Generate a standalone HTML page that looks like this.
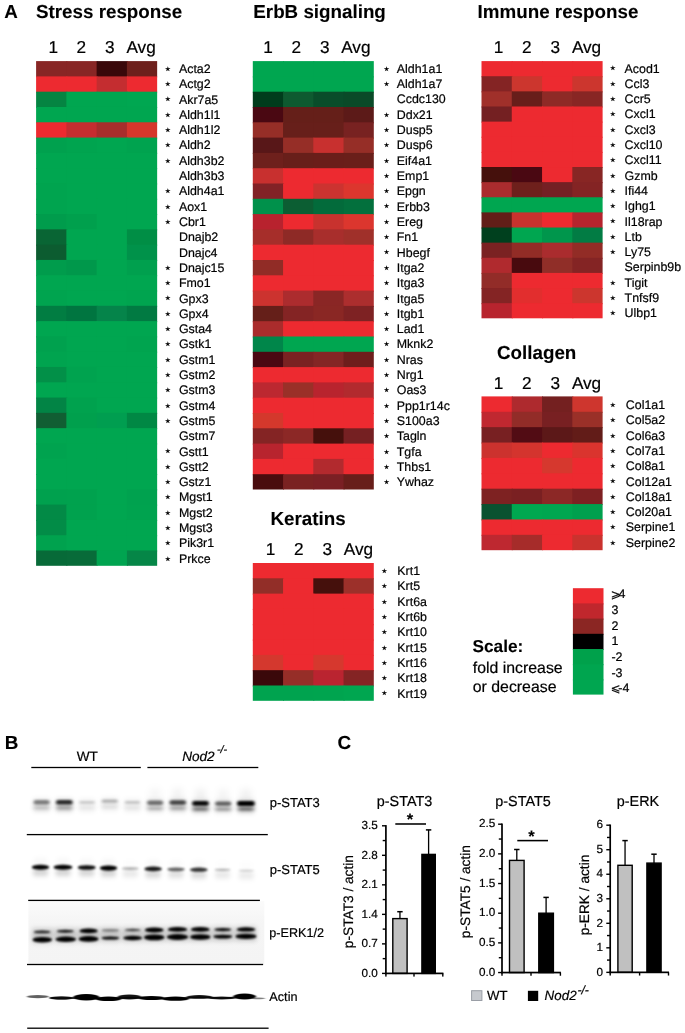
<!DOCTYPE html>
<html><head><meta charset="utf-8"><title>Figure</title>
<style>
html,body{margin:0;padding:0;background:#fff;}
body{width:685px;height:1033px;overflow:hidden;position:relative;font-family:"Liberation Sans",sans-serif;}
svg{position:absolute;left:0;top:0;}
svg text{font-family:"Liberation Sans",sans-serif;fill:#000;stroke:#000;stroke-width:0.2px;}
svg text[font-weight="bold"]{stroke-width:0.1px;}
</style></head><body>
<svg width="685" height="1033" viewBox="0 0 685 1033" shape-rendering="crispEdges" text-rendering="geometricPrecision">
<rect width="685" height="1033" fill="#fff"/>
<g shape-rendering="auto">
<rect x="36.10" y="61.10" width="31.26" height="16.29" fill="#882625"/>
<rect x="66.36" y="61.10" width="31.26" height="16.29" fill="#882625"/>
<rect x="96.62" y="61.10" width="31.26" height="16.29" fill="#3A080A"/>
<rect x="126.89" y="61.10" width="30.26" height="16.29" fill="#6E201C"/>
<rect x="36.10" y="76.39" width="31.26" height="16.29" fill="#ED2A30"/>
<rect x="66.36" y="76.39" width="31.26" height="16.29" fill="#ED2A30"/>
<rect x="96.62" y="76.39" width="31.26" height="16.29" fill="#C42D30"/>
<rect x="126.89" y="76.39" width="30.26" height="16.29" fill="#ED2A30"/>
<rect x="36.10" y="91.69" width="31.26" height="16.29" fill="#058442"/>
<rect x="66.36" y="91.69" width="31.26" height="16.29" fill="#00A650"/>
<rect x="96.62" y="91.69" width="31.26" height="16.29" fill="#00A650"/>
<rect x="126.89" y="91.69" width="30.26" height="16.29" fill="#00A751"/>
<rect x="36.10" y="106.98" width="31.26" height="16.29" fill="#00A650"/>
<rect x="66.36" y="106.98" width="31.26" height="16.29" fill="#00A650"/>
<rect x="96.62" y="106.98" width="31.26" height="16.29" fill="#00A650"/>
<rect x="126.89" y="106.98" width="30.26" height="16.29" fill="#00A650"/>
<rect x="36.10" y="122.28" width="31.26" height="16.29" fill="#ED2A30"/>
<rect x="66.36" y="122.28" width="31.26" height="16.29" fill="#C62D30"/>
<rect x="96.62" y="122.28" width="31.26" height="16.29" fill="#A82E2C"/>
<rect x="126.89" y="122.28" width="30.26" height="16.29" fill="#D6372C"/>
<rect x="36.10" y="137.57" width="31.26" height="16.29" fill="#00A14E"/>
<rect x="66.36" y="137.57" width="31.26" height="16.29" fill="#00A44F"/>
<rect x="96.62" y="137.57" width="31.26" height="16.29" fill="#00A650"/>
<rect x="126.89" y="137.57" width="30.26" height="16.29" fill="#00A34F"/>
<rect x="36.10" y="152.86" width="31.26" height="16.29" fill="#00A650"/>
<rect x="66.36" y="152.86" width="31.26" height="16.29" fill="#00A650"/>
<rect x="96.62" y="152.86" width="31.26" height="16.29" fill="#00A650"/>
<rect x="126.89" y="152.86" width="30.26" height="16.29" fill="#00A650"/>
<rect x="36.10" y="168.16" width="31.26" height="16.29" fill="#00A650"/>
<rect x="66.36" y="168.16" width="31.26" height="16.29" fill="#00A650"/>
<rect x="96.62" y="168.16" width="31.26" height="16.29" fill="#00A650"/>
<rect x="126.89" y="168.16" width="30.26" height="16.29" fill="#00A650"/>
<rect x="36.10" y="183.45" width="31.26" height="16.29" fill="#00A44F"/>
<rect x="66.36" y="183.45" width="31.26" height="16.29" fill="#00A650"/>
<rect x="96.62" y="183.45" width="31.26" height="16.29" fill="#00A650"/>
<rect x="126.89" y="183.45" width="30.26" height="16.29" fill="#00A650"/>
<rect x="36.10" y="198.75" width="31.26" height="16.29" fill="#00A44F"/>
<rect x="66.36" y="198.75" width="31.26" height="16.29" fill="#00A650"/>
<rect x="96.62" y="198.75" width="31.26" height="16.29" fill="#00A650"/>
<rect x="126.89" y="198.75" width="30.26" height="16.29" fill="#00A650"/>
<rect x="36.10" y="214.04" width="31.26" height="16.29" fill="#009C4C"/>
<rect x="66.36" y="214.04" width="31.26" height="16.29" fill="#00A04D"/>
<rect x="96.62" y="214.04" width="31.26" height="16.29" fill="#00A650"/>
<rect x="126.89" y="214.04" width="30.26" height="16.29" fill="#00A650"/>
<rect x="36.10" y="229.33" width="31.26" height="16.29" fill="#096534"/>
<rect x="66.36" y="229.33" width="31.26" height="16.29" fill="#00A650"/>
<rect x="96.62" y="229.33" width="31.26" height="16.29" fill="#00A650"/>
<rect x="126.89" y="229.33" width="30.26" height="16.29" fill="#008E45"/>
<rect x="36.10" y="244.63" width="31.26" height="16.29" fill="#0C5C30"/>
<rect x="66.36" y="244.63" width="31.26" height="16.29" fill="#00A650"/>
<rect x="96.62" y="244.63" width="31.26" height="16.29" fill="#00A650"/>
<rect x="126.89" y="244.63" width="30.26" height="16.29" fill="#00924A"/>
<rect x="36.10" y="259.92" width="31.26" height="16.29" fill="#009C4C"/>
<rect x="66.36" y="259.92" width="31.26" height="16.29" fill="#00984B"/>
<rect x="96.62" y="259.92" width="31.26" height="16.29" fill="#00A650"/>
<rect x="126.89" y="259.92" width="30.26" height="16.29" fill="#00A04E"/>
<rect x="36.10" y="275.22" width="31.26" height="16.29" fill="#00A650"/>
<rect x="66.36" y="275.22" width="31.26" height="16.29" fill="#00A650"/>
<rect x="96.62" y="275.22" width="31.26" height="16.29" fill="#00A650"/>
<rect x="126.89" y="275.22" width="30.26" height="16.29" fill="#00A650"/>
<rect x="36.10" y="290.51" width="31.26" height="16.29" fill="#00A44F"/>
<rect x="66.36" y="290.51" width="31.26" height="16.29" fill="#00A650"/>
<rect x="96.62" y="290.51" width="31.26" height="16.29" fill="#00A650"/>
<rect x="126.89" y="290.51" width="30.26" height="16.29" fill="#00A44F"/>
<rect x="36.10" y="305.80" width="31.26" height="16.29" fill="#017D42"/>
<rect x="66.36" y="305.80" width="31.26" height="16.29" fill="#007540"/>
<rect x="96.62" y="305.80" width="31.26" height="16.29" fill="#05844A"/>
<rect x="126.89" y="305.80" width="30.26" height="16.29" fill="#017A42"/>
<rect x="36.10" y="321.10" width="31.26" height="16.29" fill="#00A650"/>
<rect x="66.36" y="321.10" width="31.26" height="16.29" fill="#00A650"/>
<rect x="96.62" y="321.10" width="31.26" height="16.29" fill="#00A650"/>
<rect x="126.89" y="321.10" width="30.26" height="16.29" fill="#00A650"/>
<rect x="36.10" y="336.39" width="31.26" height="16.29" fill="#00A14E"/>
<rect x="66.36" y="336.39" width="31.26" height="16.29" fill="#00A650"/>
<rect x="96.62" y="336.39" width="31.26" height="16.29" fill="#00A650"/>
<rect x="126.89" y="336.39" width="30.26" height="16.29" fill="#00A44F"/>
<rect x="36.10" y="351.68" width="31.26" height="16.29" fill="#00A44F"/>
<rect x="66.36" y="351.68" width="31.26" height="16.29" fill="#00A650"/>
<rect x="96.62" y="351.68" width="31.26" height="16.29" fill="#00A650"/>
<rect x="126.89" y="351.68" width="30.26" height="16.29" fill="#00A650"/>
<rect x="36.10" y="366.98" width="31.26" height="16.29" fill="#029048"/>
<rect x="66.36" y="366.98" width="31.26" height="16.29" fill="#00A34F"/>
<rect x="96.62" y="366.98" width="31.26" height="16.29" fill="#00A650"/>
<rect x="126.89" y="366.98" width="30.26" height="16.29" fill="#00A650"/>
<rect x="36.10" y="382.27" width="31.26" height="16.29" fill="#00A650"/>
<rect x="66.36" y="382.27" width="31.26" height="16.29" fill="#00A650"/>
<rect x="96.62" y="382.27" width="31.26" height="16.29" fill="#00A650"/>
<rect x="126.89" y="382.27" width="30.26" height="16.29" fill="#00A650"/>
<rect x="36.10" y="397.57" width="31.26" height="16.29" fill="#028445"/>
<rect x="66.36" y="397.57" width="31.26" height="16.29" fill="#00A24E"/>
<rect x="96.62" y="397.57" width="31.26" height="16.29" fill="#00A650"/>
<rect x="126.89" y="397.57" width="30.26" height="16.29" fill="#00A650"/>
<rect x="36.10" y="412.86" width="31.26" height="16.29" fill="#115E33"/>
<rect x="66.36" y="412.86" width="31.26" height="16.29" fill="#00A04D"/>
<rect x="96.62" y="412.86" width="31.26" height="16.29" fill="#009E50"/>
<rect x="126.89" y="412.86" width="30.26" height="16.29" fill="#008844"/>
<rect x="36.10" y="428.15" width="31.26" height="16.29" fill="#00A650"/>
<rect x="66.36" y="428.15" width="31.26" height="16.29" fill="#00A650"/>
<rect x="96.62" y="428.15" width="31.26" height="16.29" fill="#00A650"/>
<rect x="126.89" y="428.15" width="30.26" height="16.29" fill="#00A650"/>
<rect x="36.10" y="443.45" width="31.26" height="16.29" fill="#00A34F"/>
<rect x="66.36" y="443.45" width="31.26" height="16.29" fill="#00A650"/>
<rect x="96.62" y="443.45" width="31.26" height="16.29" fill="#00A650"/>
<rect x="126.89" y="443.45" width="30.26" height="16.29" fill="#00A650"/>
<rect x="36.10" y="458.74" width="31.26" height="16.29" fill="#00A650"/>
<rect x="66.36" y="458.74" width="31.26" height="16.29" fill="#00A650"/>
<rect x="96.62" y="458.74" width="31.26" height="16.29" fill="#00A650"/>
<rect x="126.89" y="458.74" width="30.26" height="16.29" fill="#00A650"/>
<rect x="36.10" y="474.04" width="31.26" height="16.29" fill="#00A650"/>
<rect x="66.36" y="474.04" width="31.26" height="16.29" fill="#00A650"/>
<rect x="96.62" y="474.04" width="31.26" height="16.29" fill="#00A650"/>
<rect x="126.89" y="474.04" width="30.26" height="16.29" fill="#00A650"/>
<rect x="36.10" y="489.33" width="31.26" height="16.29" fill="#00A14E"/>
<rect x="66.36" y="489.33" width="31.26" height="16.29" fill="#00A24E"/>
<rect x="96.62" y="489.33" width="31.26" height="16.29" fill="#00A650"/>
<rect x="126.89" y="489.33" width="30.26" height="16.29" fill="#00A24F"/>
<rect x="36.10" y="504.62" width="31.26" height="16.29" fill="#028A46"/>
<rect x="66.36" y="504.62" width="31.26" height="16.29" fill="#00A24E"/>
<rect x="96.62" y="504.62" width="31.26" height="16.29" fill="#00A650"/>
<rect x="126.89" y="504.62" width="30.26" height="16.29" fill="#00A34F"/>
<rect x="36.10" y="519.92" width="31.26" height="16.29" fill="#028C47"/>
<rect x="66.36" y="519.92" width="31.26" height="16.29" fill="#00A650"/>
<rect x="96.62" y="519.92" width="31.26" height="16.29" fill="#00A650"/>
<rect x="126.89" y="519.92" width="30.26" height="16.29" fill="#00A650"/>
<rect x="36.10" y="535.21" width="31.26" height="16.29" fill="#00A24E"/>
<rect x="66.36" y="535.21" width="31.26" height="16.29" fill="#00A650"/>
<rect x="96.62" y="535.21" width="31.26" height="16.29" fill="#00A650"/>
<rect x="126.89" y="535.21" width="30.26" height="16.29" fill="#00A650"/>
<rect x="36.10" y="550.51" width="31.26" height="15.29" fill="#076A38"/>
<rect x="66.36" y="550.51" width="31.26" height="15.29" fill="#086B39"/>
<rect x="96.62" y="550.51" width="31.26" height="15.29" fill="#00A450"/>
<rect x="126.89" y="550.51" width="30.26" height="15.29" fill="#058647"/>
</g>
<text x="167.75" y="70.85" font-size="6.3" text-anchor="middle" font-family="DejaVu Sans, sans-serif">★</text>
<text x="178.95" y="72.95" font-size="12.4" text-anchor="start" font-weight="normal" font-style="normal" >Acta2</text>
<text x="167.75" y="86.16" font-size="6.3" text-anchor="middle" font-family="DejaVu Sans, sans-serif">★</text>
<text x="178.95" y="88.25" font-size="12.4" text-anchor="start" font-weight="normal" font-style="normal" >Actg2</text>
<text x="167.75" y="101.46" font-size="6.3" text-anchor="middle" font-family="DejaVu Sans, sans-serif">★</text>
<text x="178.95" y="103.56" font-size="12.4" text-anchor="start" font-weight="normal" font-style="normal" >Akr7a5</text>
<text x="167.75" y="116.77" font-size="6.3" text-anchor="middle" font-family="DejaVu Sans, sans-serif">★</text>
<text x="178.95" y="118.87" font-size="12.4" text-anchor="start" font-weight="normal" font-style="normal" >Aldh1l1</text>
<text x="167.75" y="132.07" font-size="6.3" text-anchor="middle" font-family="DejaVu Sans, sans-serif">★</text>
<text x="178.95" y="134.17" font-size="12.4" text-anchor="start" font-weight="normal" font-style="normal" >Aldh1l2</text>
<text x="167.75" y="147.38" font-size="6.3" text-anchor="middle" font-family="DejaVu Sans, sans-serif">★</text>
<text x="178.95" y="149.48" font-size="12.4" text-anchor="start" font-weight="normal" font-style="normal" >Aldh2</text>
<text x="167.75" y="162.68" font-size="6.3" text-anchor="middle" font-family="DejaVu Sans, sans-serif">★</text>
<text x="178.95" y="164.78" font-size="12.4" text-anchor="start" font-weight="normal" font-style="normal" >Aldh3b2</text>
<text x="178.95" y="180.08" font-size="12.4" text-anchor="start" font-weight="normal" font-style="normal" >Aldh3b3</text>
<text x="167.75" y="193.29" font-size="6.3" text-anchor="middle" font-family="DejaVu Sans, sans-serif">★</text>
<text x="178.95" y="195.39" font-size="12.4" text-anchor="start" font-weight="normal" font-style="normal" >Aldh4a1</text>
<text x="167.75" y="208.59" font-size="6.3" text-anchor="middle" font-family="DejaVu Sans, sans-serif">★</text>
<text x="178.95" y="210.69" font-size="12.4" text-anchor="start" font-weight="normal" font-style="normal" >Aox1</text>
<text x="167.75" y="223.90" font-size="6.3" text-anchor="middle" font-family="DejaVu Sans, sans-serif">★</text>
<text x="178.95" y="226.00" font-size="12.4" text-anchor="start" font-weight="normal" font-style="normal" >Cbr1</text>
<text x="178.95" y="241.31" font-size="12.4" text-anchor="start" font-weight="normal" font-style="normal" >Dnajb2</text>
<text x="178.95" y="256.61" font-size="12.4" text-anchor="start" font-weight="normal" font-style="normal" >Dnajc4</text>
<text x="167.75" y="269.81" font-size="6.3" text-anchor="middle" font-family="DejaVu Sans, sans-serif">★</text>
<text x="178.95" y="271.92" font-size="12.4" text-anchor="start" font-weight="normal" font-style="normal" >Dnajc15</text>
<text x="167.75" y="285.12" font-size="6.3" text-anchor="middle" font-family="DejaVu Sans, sans-serif">★</text>
<text x="178.95" y="287.22" font-size="12.4" text-anchor="start" font-weight="normal" font-style="normal" >Fmo1</text>
<text x="167.75" y="300.42" font-size="6.3" text-anchor="middle" font-family="DejaVu Sans, sans-serif">★</text>
<text x="178.95" y="302.52" font-size="12.4" text-anchor="start" font-weight="normal" font-style="normal" >Gpx3</text>
<text x="167.75" y="315.73" font-size="6.3" text-anchor="middle" font-family="DejaVu Sans, sans-serif">★</text>
<text x="178.95" y="317.83" font-size="12.4" text-anchor="start" font-weight="normal" font-style="normal" >Gpx4</text>
<text x="167.75" y="331.03" font-size="6.3" text-anchor="middle" font-family="DejaVu Sans, sans-serif">★</text>
<text x="178.95" y="333.13" font-size="12.4" text-anchor="start" font-weight="normal" font-style="normal" >Gsta4</text>
<text x="167.75" y="346.34" font-size="6.3" text-anchor="middle" font-family="DejaVu Sans, sans-serif">★</text>
<text x="178.95" y="348.44" font-size="12.4" text-anchor="start" font-weight="normal" font-style="normal" >Gstk1</text>
<text x="167.75" y="361.64" font-size="6.3" text-anchor="middle" font-family="DejaVu Sans, sans-serif">★</text>
<text x="178.95" y="363.75" font-size="12.4" text-anchor="start" font-weight="normal" font-style="normal" >Gstm1</text>
<text x="167.75" y="376.95" font-size="6.3" text-anchor="middle" font-family="DejaVu Sans, sans-serif">★</text>
<text x="178.95" y="379.05" font-size="12.4" text-anchor="start" font-weight="normal" font-style="normal" >Gstm2</text>
<text x="167.75" y="392.25" font-size="6.3" text-anchor="middle" font-family="DejaVu Sans, sans-serif">★</text>
<text x="178.95" y="394.35" font-size="12.4" text-anchor="start" font-weight="normal" font-style="normal" >Gstm3</text>
<text x="167.75" y="407.56" font-size="6.3" text-anchor="middle" font-family="DejaVu Sans, sans-serif">★</text>
<text x="178.95" y="409.66" font-size="12.4" text-anchor="start" font-weight="normal" font-style="normal" >Gstm4</text>
<text x="167.75" y="422.86" font-size="6.3" text-anchor="middle" font-family="DejaVu Sans, sans-serif">★</text>
<text x="178.95" y="424.96" font-size="12.4" text-anchor="start" font-weight="normal" font-style="normal" >Gstm5</text>
<text x="178.95" y="440.27" font-size="12.4" text-anchor="start" font-weight="normal" font-style="normal" >Gstm7</text>
<text x="167.75" y="453.47" font-size="6.3" text-anchor="middle" font-family="DejaVu Sans, sans-serif">★</text>
<text x="178.95" y="455.57" font-size="12.4" text-anchor="start" font-weight="normal" font-style="normal" >Gstt1</text>
<text x="167.75" y="468.78" font-size="6.3" text-anchor="middle" font-family="DejaVu Sans, sans-serif">★</text>
<text x="178.95" y="470.88" font-size="12.4" text-anchor="start" font-weight="normal" font-style="normal" >Gstt2</text>
<text x="167.75" y="484.08" font-size="6.3" text-anchor="middle" font-family="DejaVu Sans, sans-serif">★</text>
<text x="178.95" y="486.19" font-size="12.4" text-anchor="start" font-weight="normal" font-style="normal" >Gstz1</text>
<text x="167.75" y="499.39" font-size="6.3" text-anchor="middle" font-family="DejaVu Sans, sans-serif">★</text>
<text x="178.95" y="501.49" font-size="12.4" text-anchor="start" font-weight="normal" font-style="normal" >Mgst1</text>
<text x="167.75" y="514.69" font-size="6.3" text-anchor="middle" font-family="DejaVu Sans, sans-serif">★</text>
<text x="178.95" y="516.79" font-size="12.4" text-anchor="start" font-weight="normal" font-style="normal" >Mgst2</text>
<text x="167.75" y="530.00" font-size="6.3" text-anchor="middle" font-family="DejaVu Sans, sans-serif">★</text>
<text x="178.95" y="532.10" font-size="12.4" text-anchor="start" font-weight="normal" font-style="normal" >Mgst3</text>
<text x="167.75" y="545.30" font-size="6.3" text-anchor="middle" font-family="DejaVu Sans, sans-serif">★</text>
<text x="178.95" y="547.40" font-size="12.4" text-anchor="start" font-weight="normal" font-style="normal" >Pik3r1</text>
<text x="167.75" y="560.61" font-size="6.3" text-anchor="middle" font-family="DejaVu Sans, sans-serif">★</text>
<text x="178.95" y="562.71" font-size="12.4" text-anchor="start" font-weight="normal" font-style="normal" >Prkce</text>
<text x="53.20" y="53.20" font-size="17.2" text-anchor="middle" font-weight="normal" font-style="normal" >1</text>
<text x="81.40" y="53.20" font-size="17.2" text-anchor="middle" font-weight="normal" font-style="normal" >2</text>
<text x="109.90" y="53.20" font-size="17.2" text-anchor="middle" font-weight="normal" font-style="normal" >3</text>
<text x="155.75" y="53.20" font-size="17.2" text-anchor="end" font-weight="normal" font-style="normal" >Avg</text>
<g shape-rendering="auto">
<rect x="252.80" y="61.10" width="31.25" height="16.30" fill="#00A650"/>
<rect x="283.05" y="61.10" width="31.25" height="16.30" fill="#00A650"/>
<rect x="313.30" y="61.10" width="31.25" height="16.30" fill="#00A650"/>
<rect x="343.55" y="61.10" width="30.25" height="16.30" fill="#00A650"/>
<rect x="252.80" y="76.40" width="31.25" height="16.30" fill="#00A650"/>
<rect x="283.05" y="76.40" width="31.25" height="16.30" fill="#00A650"/>
<rect x="313.30" y="76.40" width="31.25" height="16.30" fill="#00A650"/>
<rect x="343.55" y="76.40" width="30.25" height="16.30" fill="#00A650"/>
<rect x="252.80" y="91.70" width="31.25" height="16.30" fill="#003C1C"/>
<rect x="283.05" y="91.70" width="31.25" height="16.30" fill="#0E5A30"/>
<rect x="313.30" y="91.70" width="31.25" height="16.30" fill="#094D2A"/>
<rect x="343.55" y="91.70" width="30.25" height="16.30" fill="#0A4A28"/>
<rect x="252.80" y="107.00" width="31.25" height="16.30" fill="#4A0812"/>
<rect x="283.05" y="107.00" width="31.25" height="16.30" fill="#651F19"/>
<rect x="313.30" y="107.00" width="31.25" height="16.30" fill="#651F19"/>
<rect x="343.55" y="107.00" width="30.25" height="16.30" fill="#5C1A18"/>
<rect x="252.80" y="122.30" width="31.25" height="16.30" fill="#962E27"/>
<rect x="283.05" y="122.30" width="31.25" height="16.30" fill="#671F1A"/>
<rect x="313.30" y="122.30" width="31.25" height="16.30" fill="#671F1A"/>
<rect x="343.55" y="122.30" width="30.25" height="16.30" fill="#782221"/>
<rect x="252.80" y="137.60" width="31.25" height="16.30" fill="#581718"/>
<rect x="283.05" y="137.60" width="31.25" height="16.30" fill="#962E27"/>
<rect x="313.30" y="137.60" width="31.25" height="16.30" fill="#C8302F"/>
<rect x="343.55" y="137.60" width="30.25" height="16.30" fill="#962E27"/>
<rect x="252.80" y="152.90" width="31.25" height="16.30" fill="#6E201C"/>
<rect x="283.05" y="152.90" width="31.25" height="16.30" fill="#681F1A"/>
<rect x="313.30" y="152.90" width="31.25" height="16.30" fill="#6A1E1A"/>
<rect x="343.55" y="152.90" width="30.25" height="16.30" fill="#6A1F1A"/>
<rect x="252.80" y="168.20" width="31.25" height="16.30" fill="#C8302F"/>
<rect x="283.05" y="168.20" width="31.25" height="16.30" fill="#ED2A30"/>
<rect x="313.30" y="168.20" width="31.25" height="16.30" fill="#ED2A30"/>
<rect x="343.55" y="168.20" width="30.25" height="16.30" fill="#ED2A30"/>
<rect x="252.80" y="183.50" width="31.25" height="16.30" fill="#822226"/>
<rect x="283.05" y="183.50" width="31.25" height="16.30" fill="#ED2A30"/>
<rect x="313.30" y="183.50" width="31.25" height="16.30" fill="#CC3330"/>
<rect x="343.55" y="183.50" width="30.25" height="16.30" fill="#DC362E"/>
<rect x="252.80" y="198.80" width="31.25" height="16.30" fill="#00914B"/>
<rect x="283.05" y="198.80" width="31.25" height="16.30" fill="#0C5E33"/>
<rect x="313.30" y="198.80" width="31.25" height="16.30" fill="#036B3B"/>
<rect x="343.55" y="198.80" width="30.25" height="16.30" fill="#03703D"/>
<rect x="252.80" y="214.10" width="31.25" height="16.30" fill="#B8222E"/>
<rect x="283.05" y="214.10" width="31.25" height="16.30" fill="#ED2A30"/>
<rect x="313.30" y="214.10" width="31.25" height="16.30" fill="#C8322E"/>
<rect x="343.55" y="214.10" width="30.25" height="16.30" fill="#DC362E"/>
<rect x="252.80" y="229.40" width="31.25" height="16.30" fill="#A62E2A"/>
<rect x="283.05" y="229.40" width="31.25" height="16.30" fill="#8E2A26"/>
<rect x="313.30" y="229.40" width="31.25" height="16.30" fill="#A82E2C"/>
<rect x="343.55" y="229.40" width="30.25" height="16.30" fill="#A0302A"/>
<rect x="252.80" y="244.70" width="31.25" height="16.30" fill="#ED2A30"/>
<rect x="283.05" y="244.70" width="31.25" height="16.30" fill="#ED2A30"/>
<rect x="313.30" y="244.70" width="31.25" height="16.30" fill="#ED2A30"/>
<rect x="343.55" y="244.70" width="30.25" height="16.30" fill="#ED2A30"/>
<rect x="252.80" y="260.00" width="31.25" height="16.30" fill="#912C26"/>
<rect x="283.05" y="260.00" width="31.25" height="16.30" fill="#ED2A30"/>
<rect x="313.30" y="260.00" width="31.25" height="16.30" fill="#ED2A30"/>
<rect x="343.55" y="260.00" width="30.25" height="16.30" fill="#ED2A30"/>
<rect x="252.80" y="275.30" width="31.25" height="16.30" fill="#ED2A30"/>
<rect x="283.05" y="275.30" width="31.25" height="16.30" fill="#ED2A30"/>
<rect x="313.30" y="275.30" width="31.25" height="16.30" fill="#ED2A30"/>
<rect x="343.55" y="275.30" width="30.25" height="16.30" fill="#ED2A30"/>
<rect x="252.80" y="290.60" width="31.25" height="16.30" fill="#CC332F"/>
<rect x="283.05" y="290.60" width="31.25" height="16.30" fill="#AC2C2E"/>
<rect x="313.30" y="290.60" width="31.25" height="16.30" fill="#8A2625"/>
<rect x="343.55" y="290.60" width="30.25" height="16.30" fill="#AC2E2E"/>
<rect x="252.80" y="305.90" width="31.25" height="16.30" fill="#651F19"/>
<rect x="283.05" y="305.90" width="31.25" height="16.30" fill="#842424"/>
<rect x="313.30" y="305.90" width="31.25" height="16.30" fill="#8A2724"/>
<rect x="343.55" y="305.90" width="30.25" height="16.30" fill="#7E2223"/>
<rect x="252.80" y="321.20" width="31.25" height="16.30" fill="#AA2C2C"/>
<rect x="283.05" y="321.20" width="31.25" height="16.30" fill="#ED2A30"/>
<rect x="313.30" y="321.20" width="31.25" height="16.30" fill="#ED2A30"/>
<rect x="343.55" y="321.20" width="30.25" height="16.30" fill="#ED2A30"/>
<rect x="252.80" y="336.50" width="31.25" height="16.30" fill="#00864A"/>
<rect x="283.05" y="336.50" width="31.25" height="16.30" fill="#00A650"/>
<rect x="313.30" y="336.50" width="31.25" height="16.30" fill="#00A650"/>
<rect x="343.55" y="336.50" width="30.25" height="16.30" fill="#00A650"/>
<rect x="252.80" y="351.80" width="31.25" height="16.30" fill="#4A0812"/>
<rect x="283.05" y="351.80" width="31.25" height="16.30" fill="#7A2222"/>
<rect x="313.30" y="351.80" width="31.25" height="16.30" fill="#842625"/>
<rect x="343.55" y="351.80" width="30.25" height="16.30" fill="#6E1E1C"/>
<rect x="252.80" y="367.10" width="31.25" height="16.30" fill="#ED2A30"/>
<rect x="283.05" y="367.10" width="31.25" height="16.30" fill="#ED2A30"/>
<rect x="313.30" y="367.10" width="31.25" height="16.30" fill="#ED2A30"/>
<rect x="343.55" y="367.10" width="30.25" height="16.30" fill="#ED2A30"/>
<rect x="252.80" y="382.40" width="31.25" height="16.30" fill="#BC2830"/>
<rect x="283.05" y="382.40" width="31.25" height="16.30" fill="#9A3028"/>
<rect x="313.30" y="382.40" width="31.25" height="16.30" fill="#B8242E"/>
<rect x="343.55" y="382.40" width="30.25" height="16.30" fill="#B22A2E"/>
<rect x="252.80" y="397.70" width="31.25" height="16.30" fill="#ED2A30"/>
<rect x="283.05" y="397.70" width="31.25" height="16.30" fill="#ED2A30"/>
<rect x="313.30" y="397.70" width="31.25" height="16.30" fill="#ED2A30"/>
<rect x="343.55" y="397.70" width="30.25" height="16.30" fill="#ED2A30"/>
<rect x="252.80" y="413.00" width="31.25" height="16.30" fill="#D4382C"/>
<rect x="283.05" y="413.00" width="31.25" height="16.30" fill="#ED2A30"/>
<rect x="313.30" y="413.00" width="31.25" height="16.30" fill="#ED2A30"/>
<rect x="343.55" y="413.00" width="30.25" height="16.30" fill="#ED2A30"/>
<rect x="252.80" y="428.30" width="31.25" height="16.30" fill="#842424"/>
<rect x="283.05" y="428.30" width="31.25" height="16.30" fill="#8C2826"/>
<rect x="313.30" y="428.30" width="31.25" height="16.30" fill="#45100C"/>
<rect x="343.55" y="428.30" width="30.25" height="16.30" fill="#752022"/>
<rect x="252.80" y="443.60" width="31.25" height="16.30" fill="#B8242E"/>
<rect x="283.05" y="443.60" width="31.25" height="16.30" fill="#ED2A30"/>
<rect x="313.30" y="443.60" width="31.25" height="16.30" fill="#ED2A30"/>
<rect x="343.55" y="443.60" width="30.25" height="16.30" fill="#ED2A30"/>
<rect x="252.80" y="458.90" width="31.25" height="16.30" fill="#ED2A30"/>
<rect x="283.05" y="458.90" width="31.25" height="16.30" fill="#ED2A30"/>
<rect x="313.30" y="458.90" width="31.25" height="16.30" fill="#B22A2E"/>
<rect x="343.55" y="458.90" width="30.25" height="16.30" fill="#ED2A30"/>
<rect x="252.80" y="474.20" width="31.25" height="15.30" fill="#4A0C0E"/>
<rect x="283.05" y="474.20" width="31.25" height="15.30" fill="#7A2222"/>
<rect x="313.30" y="474.20" width="31.25" height="15.30" fill="#7A2024"/>
<rect x="343.55" y="474.20" width="30.25" height="15.30" fill="#681E1A"/>
</g>
<text x="386.50" y="70.60" font-size="6.3" text-anchor="middle" font-family="DejaVu Sans, sans-serif">★</text>
<text x="396.80" y="72.70" font-size="12.4" text-anchor="start" font-weight="normal" font-style="normal" >Aldh1a1</text>
<text x="386.50" y="85.92" font-size="6.3" text-anchor="middle" font-family="DejaVu Sans, sans-serif">★</text>
<text x="396.80" y="88.02" font-size="12.4" text-anchor="start" font-weight="normal" font-style="normal" >Aldh1a7</text>
<text x="396.80" y="103.34" font-size="12.4" text-anchor="start" font-weight="normal" font-style="normal" >Ccdc130</text>
<text x="386.50" y="116.56" font-size="6.3" text-anchor="middle" font-family="DejaVu Sans, sans-serif">★</text>
<text x="396.80" y="118.66" font-size="12.4" text-anchor="start" font-weight="normal" font-style="normal" >Ddx21</text>
<text x="386.50" y="131.88" font-size="6.3" text-anchor="middle" font-family="DejaVu Sans, sans-serif">★</text>
<text x="396.80" y="133.98" font-size="12.4" text-anchor="start" font-weight="normal" font-style="normal" >Dusp5</text>
<text x="386.50" y="147.20" font-size="6.3" text-anchor="middle" font-family="DejaVu Sans, sans-serif">★</text>
<text x="396.80" y="149.30" font-size="12.4" text-anchor="start" font-weight="normal" font-style="normal" >Dusp6</text>
<text x="386.50" y="162.52" font-size="6.3" text-anchor="middle" font-family="DejaVu Sans, sans-serif">★</text>
<text x="396.80" y="164.62" font-size="12.4" text-anchor="start" font-weight="normal" font-style="normal" >Eif4a1</text>
<text x="386.50" y="177.84" font-size="6.3" text-anchor="middle" font-family="DejaVu Sans, sans-serif">★</text>
<text x="396.80" y="179.94" font-size="12.4" text-anchor="start" font-weight="normal" font-style="normal" >Emp1</text>
<text x="386.50" y="193.16" font-size="6.3" text-anchor="middle" font-family="DejaVu Sans, sans-serif">★</text>
<text x="396.80" y="195.26" font-size="12.4" text-anchor="start" font-weight="normal" font-style="normal" >Epgn</text>
<text x="386.50" y="208.48" font-size="6.3" text-anchor="middle" font-family="DejaVu Sans, sans-serif">★</text>
<text x="396.80" y="210.58" font-size="12.4" text-anchor="start" font-weight="normal" font-style="normal" >Erbb3</text>
<text x="386.50" y="223.80" font-size="6.3" text-anchor="middle" font-family="DejaVu Sans, sans-serif">★</text>
<text x="396.80" y="225.90" font-size="12.4" text-anchor="start" font-weight="normal" font-style="normal" >Ereg</text>
<text x="386.50" y="239.12" font-size="6.3" text-anchor="middle" font-family="DejaVu Sans, sans-serif">★</text>
<text x="396.80" y="241.22" font-size="12.4" text-anchor="start" font-weight="normal" font-style="normal" >Fn1</text>
<text x="386.50" y="254.44" font-size="6.3" text-anchor="middle" font-family="DejaVu Sans, sans-serif">★</text>
<text x="396.80" y="256.54" font-size="12.4" text-anchor="start" font-weight="normal" font-style="normal" >Hbegf</text>
<text x="386.50" y="269.76" font-size="6.3" text-anchor="middle" font-family="DejaVu Sans, sans-serif">★</text>
<text x="396.80" y="271.86" font-size="12.4" text-anchor="start" font-weight="normal" font-style="normal" >Itga2</text>
<text x="386.50" y="285.08" font-size="6.3" text-anchor="middle" font-family="DejaVu Sans, sans-serif">★</text>
<text x="396.80" y="287.18" font-size="12.4" text-anchor="start" font-weight="normal" font-style="normal" >Itga3</text>
<text x="386.50" y="300.40" font-size="6.3" text-anchor="middle" font-family="DejaVu Sans, sans-serif">★</text>
<text x="396.80" y="302.50" font-size="12.4" text-anchor="start" font-weight="normal" font-style="normal" >Itga5</text>
<text x="386.50" y="315.72" font-size="6.3" text-anchor="middle" font-family="DejaVu Sans, sans-serif">★</text>
<text x="396.80" y="317.82" font-size="12.4" text-anchor="start" font-weight="normal" font-style="normal" >Itgb1</text>
<text x="386.50" y="331.04" font-size="6.3" text-anchor="middle" font-family="DejaVu Sans, sans-serif">★</text>
<text x="396.80" y="333.14" font-size="12.4" text-anchor="start" font-weight="normal" font-style="normal" >Lad1</text>
<text x="386.50" y="346.36" font-size="6.3" text-anchor="middle" font-family="DejaVu Sans, sans-serif">★</text>
<text x="396.80" y="348.46" font-size="12.4" text-anchor="start" font-weight="normal" font-style="normal" >Mknk2</text>
<text x="386.50" y="361.68" font-size="6.3" text-anchor="middle" font-family="DejaVu Sans, sans-serif">★</text>
<text x="396.80" y="363.78" font-size="12.4" text-anchor="start" font-weight="normal" font-style="normal" >Nras</text>
<text x="386.50" y="377.00" font-size="6.3" text-anchor="middle" font-family="DejaVu Sans, sans-serif">★</text>
<text x="396.80" y="379.10" font-size="12.4" text-anchor="start" font-weight="normal" font-style="normal" >Nrg1</text>
<text x="386.50" y="392.32" font-size="6.3" text-anchor="middle" font-family="DejaVu Sans, sans-serif">★</text>
<text x="396.80" y="394.42" font-size="12.4" text-anchor="start" font-weight="normal" font-style="normal" >Oas3</text>
<text x="386.50" y="407.64" font-size="6.3" text-anchor="middle" font-family="DejaVu Sans, sans-serif">★</text>
<text x="396.80" y="409.74" font-size="12.4" text-anchor="start" font-weight="normal" font-style="normal" >Ppp1r14c</text>
<text x="386.50" y="422.96" font-size="6.3" text-anchor="middle" font-family="DejaVu Sans, sans-serif">★</text>
<text x="396.80" y="425.06" font-size="12.4" text-anchor="start" font-weight="normal" font-style="normal" >S100a3</text>
<text x="386.50" y="438.28" font-size="6.3" text-anchor="middle" font-family="DejaVu Sans, sans-serif">★</text>
<text x="396.80" y="440.38" font-size="12.4" text-anchor="start" font-weight="normal" font-style="normal" >Tagln</text>
<text x="386.50" y="453.60" font-size="6.3" text-anchor="middle" font-family="DejaVu Sans, sans-serif">★</text>
<text x="396.80" y="455.70" font-size="12.4" text-anchor="start" font-weight="normal" font-style="normal" >Tgfa</text>
<text x="386.50" y="468.92" font-size="6.3" text-anchor="middle" font-family="DejaVu Sans, sans-serif">★</text>
<text x="396.80" y="471.02" font-size="12.4" text-anchor="start" font-weight="normal" font-style="normal" >Thbs1</text>
<text x="386.50" y="484.24" font-size="6.3" text-anchor="middle" font-family="DejaVu Sans, sans-serif">★</text>
<text x="396.80" y="486.34" font-size="12.4" text-anchor="start" font-weight="normal" font-style="normal" >Ywhaz</text>
<text x="268.00" y="53.20" font-size="17.2" text-anchor="middle" font-weight="normal" font-style="normal" >1</text>
<text x="296.20" y="53.20" font-size="17.2" text-anchor="middle" font-weight="normal" font-style="normal" >2</text>
<text x="324.70" y="53.20" font-size="17.2" text-anchor="middle" font-weight="normal" font-style="normal" >3</text>
<text x="370.50" y="53.20" font-size="17.2" text-anchor="end" font-weight="normal" font-style="normal" >Avg</text>
<g shape-rendering="auto">
<rect x="252.80" y="563.00" width="31.25" height="16.31" fill="#ED2A30"/>
<rect x="283.05" y="563.00" width="31.25" height="16.31" fill="#ED2A30"/>
<rect x="313.30" y="563.00" width="31.25" height="16.31" fill="#ED2A30"/>
<rect x="343.55" y="563.00" width="30.25" height="16.31" fill="#ED2A30"/>
<rect x="252.80" y="578.31" width="31.25" height="16.31" fill="#922E28"/>
<rect x="283.05" y="578.31" width="31.25" height="16.31" fill="#ED2A30"/>
<rect x="313.30" y="578.31" width="31.25" height="16.31" fill="#45100C"/>
<rect x="343.55" y="578.31" width="30.25" height="16.31" fill="#9C302A"/>
<rect x="252.80" y="593.62" width="31.25" height="16.31" fill="#ED2A30"/>
<rect x="283.05" y="593.62" width="31.25" height="16.31" fill="#ED2A30"/>
<rect x="313.30" y="593.62" width="31.25" height="16.31" fill="#ED2A30"/>
<rect x="343.55" y="593.62" width="30.25" height="16.31" fill="#ED2A30"/>
<rect x="252.80" y="608.93" width="31.25" height="16.31" fill="#ED2A30"/>
<rect x="283.05" y="608.93" width="31.25" height="16.31" fill="#ED2A30"/>
<rect x="313.30" y="608.93" width="31.25" height="16.31" fill="#ED2A30"/>
<rect x="343.55" y="608.93" width="30.25" height="16.31" fill="#ED2A30"/>
<rect x="252.80" y="624.24" width="31.25" height="16.31" fill="#ED2A30"/>
<rect x="283.05" y="624.24" width="31.25" height="16.31" fill="#ED2A30"/>
<rect x="313.30" y="624.24" width="31.25" height="16.31" fill="#ED2A30"/>
<rect x="343.55" y="624.24" width="30.25" height="16.31" fill="#ED2A30"/>
<rect x="252.80" y="639.56" width="31.25" height="16.31" fill="#ED2A30"/>
<rect x="283.05" y="639.56" width="31.25" height="16.31" fill="#ED2A30"/>
<rect x="313.30" y="639.56" width="31.25" height="16.31" fill="#ED2A30"/>
<rect x="343.55" y="639.56" width="30.25" height="16.31" fill="#ED2A30"/>
<rect x="252.80" y="654.87" width="31.25" height="16.31" fill="#D4382E"/>
<rect x="283.05" y="654.87" width="31.25" height="16.31" fill="#ED2A30"/>
<rect x="313.30" y="654.87" width="31.25" height="16.31" fill="#D6382E"/>
<rect x="343.55" y="654.87" width="30.25" height="16.31" fill="#ED2A30"/>
<rect x="252.80" y="670.18" width="31.25" height="16.31" fill="#3A080A"/>
<rect x="283.05" y="670.18" width="31.25" height="16.31" fill="#962E28"/>
<rect x="313.30" y="670.18" width="31.25" height="16.31" fill="#BA2430"/>
<rect x="343.55" y="670.18" width="30.25" height="16.31" fill="#842424"/>
<rect x="252.80" y="685.49" width="31.25" height="15.31" fill="#00A34F"/>
<rect x="283.05" y="685.49" width="31.25" height="15.31" fill="#00A34F"/>
<rect x="313.30" y="685.49" width="31.25" height="15.31" fill="#00A44F"/>
<rect x="343.55" y="685.49" width="30.25" height="15.31" fill="#00A650"/>
</g>
<text x="384.30" y="573.00" font-size="6.3" text-anchor="middle" font-family="DejaVu Sans, sans-serif">★</text>
<text x="397.30" y="575.10" font-size="12.4" text-anchor="start" font-weight="normal" font-style="normal" >Krt1</text>
<text x="384.30" y="588.30" font-size="6.3" text-anchor="middle" font-family="DejaVu Sans, sans-serif">★</text>
<text x="397.30" y="590.40" font-size="12.4" text-anchor="start" font-weight="normal" font-style="normal" >Krt5</text>
<text x="384.30" y="603.60" font-size="6.3" text-anchor="middle" font-family="DejaVu Sans, sans-serif">★</text>
<text x="397.30" y="605.70" font-size="12.4" text-anchor="start" font-weight="normal" font-style="normal" >Krt6a</text>
<text x="384.30" y="618.90" font-size="6.3" text-anchor="middle" font-family="DejaVu Sans, sans-serif">★</text>
<text x="397.30" y="621.00" font-size="12.4" text-anchor="start" font-weight="normal" font-style="normal" >Krt6b</text>
<text x="384.30" y="634.20" font-size="6.3" text-anchor="middle" font-family="DejaVu Sans, sans-serif">★</text>
<text x="397.30" y="636.30" font-size="12.4" text-anchor="start" font-weight="normal" font-style="normal" >Krt10</text>
<text x="384.30" y="649.50" font-size="6.3" text-anchor="middle" font-family="DejaVu Sans, sans-serif">★</text>
<text x="397.30" y="651.60" font-size="12.4" text-anchor="start" font-weight="normal" font-style="normal" >Krt15</text>
<text x="384.30" y="664.80" font-size="6.3" text-anchor="middle" font-family="DejaVu Sans, sans-serif">★</text>
<text x="397.30" y="666.90" font-size="12.4" text-anchor="start" font-weight="normal" font-style="normal" >Krt16</text>
<text x="384.30" y="680.10" font-size="6.3" text-anchor="middle" font-family="DejaVu Sans, sans-serif">★</text>
<text x="397.30" y="682.20" font-size="12.4" text-anchor="start" font-weight="normal" font-style="normal" >Krt18</text>
<text x="384.30" y="695.40" font-size="6.3" text-anchor="middle" font-family="DejaVu Sans, sans-serif">★</text>
<text x="397.30" y="697.50" font-size="12.4" text-anchor="start" font-weight="normal" font-style="normal" >Krt19</text>
<text x="270.60" y="555.10" font-size="17.2" text-anchor="middle" font-weight="normal" font-style="normal" >1</text>
<text x="298.80" y="555.10" font-size="17.2" text-anchor="middle" font-weight="normal" font-style="normal" >2</text>
<text x="327.30" y="555.10" font-size="17.2" text-anchor="middle" font-weight="normal" font-style="normal" >3</text>
<text x="373.10" y="555.10" font-size="17.2" text-anchor="end" font-weight="normal" font-style="normal" >Avg</text>
<g shape-rendering="auto">
<rect x="481.50" y="61.10" width="31.28" height="16.13" fill="#ED2A30"/>
<rect x="511.77" y="61.10" width="31.28" height="16.13" fill="#ED2A30"/>
<rect x="542.05" y="61.10" width="31.28" height="16.13" fill="#ED2A30"/>
<rect x="572.33" y="61.10" width="30.28" height="16.13" fill="#ED2A30"/>
<rect x="481.50" y="76.23" width="31.28" height="16.13" fill="#842424"/>
<rect x="511.77" y="76.23" width="31.28" height="16.13" fill="#CC362E"/>
<rect x="542.05" y="76.23" width="31.28" height="16.13" fill="#ED2A30"/>
<rect x="572.33" y="76.23" width="30.28" height="16.13" fill="#CC362E"/>
<rect x="481.50" y="91.36" width="31.28" height="16.13" fill="#A0302A"/>
<rect x="511.77" y="91.36" width="31.28" height="16.13" fill="#681E1A"/>
<rect x="542.05" y="91.36" width="31.28" height="16.13" fill="#8E2A26"/>
<rect x="572.33" y="91.36" width="30.28" height="16.13" fill="#882624"/>
<rect x="481.50" y="106.49" width="31.28" height="16.13" fill="#742022"/>
<rect x="511.77" y="106.49" width="31.28" height="16.13" fill="#ED2A30"/>
<rect x="542.05" y="106.49" width="31.28" height="16.13" fill="#ED2A30"/>
<rect x="572.33" y="106.49" width="30.28" height="16.13" fill="#ED2A30"/>
<rect x="481.50" y="121.62" width="31.28" height="16.13" fill="#ED2A30"/>
<rect x="511.77" y="121.62" width="31.28" height="16.13" fill="#ED2A30"/>
<rect x="542.05" y="121.62" width="31.28" height="16.13" fill="#ED2A30"/>
<rect x="572.33" y="121.62" width="30.28" height="16.13" fill="#ED2A30"/>
<rect x="481.50" y="136.75" width="31.28" height="16.13" fill="#ED2A30"/>
<rect x="511.77" y="136.75" width="31.28" height="16.13" fill="#ED2A30"/>
<rect x="542.05" y="136.75" width="31.28" height="16.13" fill="#ED2A30"/>
<rect x="572.33" y="136.75" width="30.28" height="16.13" fill="#ED2A30"/>
<rect x="481.50" y="151.88" width="31.28" height="16.13" fill="#ED2A30"/>
<rect x="511.77" y="151.88" width="31.28" height="16.13" fill="#ED2A30"/>
<rect x="542.05" y="151.88" width="31.28" height="16.13" fill="#ED2A30"/>
<rect x="572.33" y="151.88" width="30.28" height="16.13" fill="#ED2A30"/>
<rect x="481.50" y="167.01" width="31.28" height="16.13" fill="#45100C"/>
<rect x="511.77" y="167.01" width="31.28" height="16.13" fill="#4A0812"/>
<rect x="542.05" y="167.01" width="31.28" height="16.13" fill="#ED2A30"/>
<rect x="572.33" y="167.01" width="30.28" height="16.13" fill="#882624"/>
<rect x="481.50" y="182.14" width="31.28" height="16.13" fill="#AA2C2E"/>
<rect x="511.77" y="182.14" width="31.28" height="16.13" fill="#6E201C"/>
<rect x="542.05" y="182.14" width="31.28" height="16.13" fill="#742024"/>
<rect x="572.33" y="182.14" width="30.28" height="16.13" fill="#842424"/>
<rect x="481.50" y="197.26" width="31.28" height="16.13" fill="#00A650"/>
<rect x="511.77" y="197.26" width="31.28" height="16.13" fill="#00A650"/>
<rect x="542.05" y="197.26" width="31.28" height="16.13" fill="#00A650"/>
<rect x="572.33" y="197.26" width="30.28" height="16.13" fill="#00A650"/>
<rect x="481.50" y="212.39" width="31.28" height="16.13" fill="#621E18"/>
<rect x="511.77" y="212.39" width="31.28" height="16.13" fill="#C8322E"/>
<rect x="542.05" y="212.39" width="31.28" height="16.13" fill="#ED2A30"/>
<rect x="572.33" y="212.39" width="30.28" height="16.13" fill="#B6242E"/>
<rect x="481.50" y="227.52" width="31.28" height="16.13" fill="#00401E"/>
<rect x="511.77" y="227.52" width="31.28" height="16.13" fill="#00A650"/>
<rect x="542.05" y="227.52" width="31.28" height="16.13" fill="#00964C"/>
<rect x="572.33" y="227.52" width="30.28" height="16.13" fill="#027C44"/>
<rect x="481.50" y="242.65" width="31.28" height="16.13" fill="#7A2222"/>
<rect x="511.77" y="242.65" width="31.28" height="16.13" fill="#922C26"/>
<rect x="542.05" y="242.65" width="31.28" height="16.13" fill="#AA2C2E"/>
<rect x="572.33" y="242.65" width="30.28" height="16.13" fill="#922C26"/>
<rect x="481.50" y="257.78" width="31.28" height="16.13" fill="#B02A2E"/>
<rect x="511.77" y="257.78" width="31.28" height="16.13" fill="#480A0E"/>
<rect x="542.05" y="257.78" width="31.28" height="16.13" fill="#902E28"/>
<rect x="572.33" y="257.78" width="30.28" height="16.13" fill="#842424"/>
<rect x="481.50" y="272.91" width="31.28" height="16.13" fill="#922C28"/>
<rect x="511.77" y="272.91" width="31.28" height="16.13" fill="#ED2A30"/>
<rect x="542.05" y="272.91" width="31.28" height="16.13" fill="#ED2A30"/>
<rect x="572.33" y="272.91" width="30.28" height="16.13" fill="#ED2A30"/>
<rect x="481.50" y="288.04" width="31.28" height="16.13" fill="#842424"/>
<rect x="511.77" y="288.04" width="31.28" height="16.13" fill="#E22E2E"/>
<rect x="542.05" y="288.04" width="31.28" height="16.13" fill="#ED2A30"/>
<rect x="572.33" y="288.04" width="30.28" height="16.13" fill="#CC362E"/>
<rect x="481.50" y="303.17" width="31.28" height="15.13" fill="#B8242E"/>
<rect x="511.77" y="303.17" width="31.28" height="15.13" fill="#ED2A30"/>
<rect x="542.05" y="303.17" width="31.28" height="15.13" fill="#ED2A30"/>
<rect x="572.33" y="303.17" width="30.28" height="15.13" fill="#ED2A30"/>
</g>
<text x="612.90" y="70.40" font-size="6.3" text-anchor="middle" font-family="DejaVu Sans, sans-serif">★</text>
<text x="624.60" y="72.50" font-size="12.4" text-anchor="start" font-weight="normal" font-style="normal" >Acod1</text>
<text x="612.90" y="85.70" font-size="6.3" text-anchor="middle" font-family="DejaVu Sans, sans-serif">★</text>
<text x="624.60" y="87.80" font-size="12.4" text-anchor="start" font-weight="normal" font-style="normal" >Ccl3</text>
<text x="612.90" y="101.00" font-size="6.3" text-anchor="middle" font-family="DejaVu Sans, sans-serif">★</text>
<text x="624.60" y="103.10" font-size="12.4" text-anchor="start" font-weight="normal" font-style="normal" >Ccr5</text>
<text x="612.90" y="116.30" font-size="6.3" text-anchor="middle" font-family="DejaVu Sans, sans-serif">★</text>
<text x="624.60" y="118.40" font-size="12.4" text-anchor="start" font-weight="normal" font-style="normal" >Cxcl1</text>
<text x="612.90" y="131.60" font-size="6.3" text-anchor="middle" font-family="DejaVu Sans, sans-serif">★</text>
<text x="624.60" y="133.70" font-size="12.4" text-anchor="start" font-weight="normal" font-style="normal" >Cxcl3</text>
<text x="612.90" y="146.90" font-size="6.3" text-anchor="middle" font-family="DejaVu Sans, sans-serif">★</text>
<text x="624.60" y="149.00" font-size="12.4" text-anchor="start" font-weight="normal" font-style="normal" >Cxcl10</text>
<text x="612.90" y="162.20" font-size="6.3" text-anchor="middle" font-family="DejaVu Sans, sans-serif">★</text>
<text x="624.60" y="164.30" font-size="12.4" text-anchor="start" font-weight="normal" font-style="normal" >Cxcl11</text>
<text x="612.90" y="177.50" font-size="6.3" text-anchor="middle" font-family="DejaVu Sans, sans-serif">★</text>
<text x="624.60" y="179.60" font-size="12.4" text-anchor="start" font-weight="normal" font-style="normal" >Gzmb</text>
<text x="612.90" y="192.80" font-size="6.3" text-anchor="middle" font-family="DejaVu Sans, sans-serif">★</text>
<text x="624.60" y="194.90" font-size="12.4" text-anchor="start" font-weight="normal" font-style="normal" >Ifi44</text>
<text x="612.90" y="208.10" font-size="6.3" text-anchor="middle" font-family="DejaVu Sans, sans-serif">★</text>
<text x="624.60" y="210.20" font-size="12.4" text-anchor="start" font-weight="normal" font-style="normal" >Ighg1</text>
<text x="612.90" y="223.40" font-size="6.3" text-anchor="middle" font-family="DejaVu Sans, sans-serif">★</text>
<text x="624.60" y="225.50" font-size="12.4" text-anchor="start" font-weight="normal" font-style="normal" >Il18rap</text>
<text x="612.90" y="238.70" font-size="6.3" text-anchor="middle" font-family="DejaVu Sans, sans-serif">★</text>
<text x="624.60" y="240.80" font-size="12.4" text-anchor="start" font-weight="normal" font-style="normal" >Ltb</text>
<text x="612.90" y="254.00" font-size="6.3" text-anchor="middle" font-family="DejaVu Sans, sans-serif">★</text>
<text x="624.60" y="256.10" font-size="12.4" text-anchor="start" font-weight="normal" font-style="normal" >Ly75</text>
<text x="624.60" y="271.40" font-size="12.4" text-anchor="start" font-weight="normal" font-style="normal" >Serpinb9b</text>
<text x="612.90" y="284.60" font-size="6.3" text-anchor="middle" font-family="DejaVu Sans, sans-serif">★</text>
<text x="624.60" y="286.70" font-size="12.4" text-anchor="start" font-weight="normal" font-style="normal" >Tigit</text>
<text x="612.90" y="299.90" font-size="6.3" text-anchor="middle" font-family="DejaVu Sans, sans-serif">★</text>
<text x="624.60" y="302.00" font-size="12.4" text-anchor="start" font-weight="normal" font-style="normal" >Tnfsf9</text>
<text x="612.90" y="315.20" font-size="6.3" text-anchor="middle" font-family="DejaVu Sans, sans-serif">★</text>
<text x="624.60" y="317.30" font-size="12.4" text-anchor="start" font-weight="normal" font-style="normal" >Ulbp1</text>
<text x="498.60" y="53.20" font-size="17.2" text-anchor="middle" font-weight="normal" font-style="normal" >1</text>
<text x="526.80" y="53.20" font-size="17.2" text-anchor="middle" font-weight="normal" font-style="normal" >2</text>
<text x="555.30" y="53.20" font-size="17.2" text-anchor="middle" font-weight="normal" font-style="normal" >3</text>
<text x="601.20" y="53.20" font-size="17.2" text-anchor="end" font-weight="normal" font-style="normal" >Avg</text>
<g shape-rendering="auto">
<rect x="481.50" y="396.40" width="31.28" height="16.38" fill="#ED2A30"/>
<rect x="511.77" y="396.40" width="31.28" height="16.38" fill="#AE2A2E"/>
<rect x="542.05" y="396.40" width="31.28" height="16.38" fill="#742020"/>
<rect x="572.33" y="396.40" width="30.28" height="16.38" fill="#CE362E"/>
<rect x="481.50" y="411.78" width="31.28" height="16.38" fill="#C02830"/>
<rect x="511.77" y="411.78" width="31.28" height="16.38" fill="#922C28"/>
<rect x="542.05" y="411.78" width="31.28" height="16.38" fill="#782022"/>
<rect x="572.33" y="411.78" width="30.28" height="16.38" fill="#9A3028"/>
<rect x="481.50" y="427.16" width="31.28" height="16.38" fill="#782022"/>
<rect x="511.77" y="427.16" width="31.28" height="16.38" fill="#520C14"/>
<rect x="542.05" y="427.16" width="31.28" height="16.38" fill="#5C1818"/>
<rect x="572.33" y="427.16" width="30.28" height="16.38" fill="#621C18"/>
<rect x="481.50" y="442.54" width="31.28" height="16.38" fill="#CC322E"/>
<rect x="511.77" y="442.54" width="31.28" height="16.38" fill="#D4342E"/>
<rect x="542.05" y="442.54" width="31.28" height="16.38" fill="#ED2A30"/>
<rect x="572.33" y="442.54" width="30.28" height="16.38" fill="#DA342E"/>
<rect x="481.50" y="457.92" width="31.28" height="16.38" fill="#ED2A30"/>
<rect x="511.77" y="457.92" width="31.28" height="16.38" fill="#ED2A30"/>
<rect x="542.05" y="457.92" width="31.28" height="16.38" fill="#D6382E"/>
<rect x="572.33" y="457.92" width="30.28" height="16.38" fill="#ED2A30"/>
<rect x="481.50" y="473.30" width="31.28" height="16.38" fill="#ED2A30"/>
<rect x="511.77" y="473.30" width="31.28" height="16.38" fill="#ED2A30"/>
<rect x="542.05" y="473.30" width="31.28" height="16.38" fill="#ED2A30"/>
<rect x="572.33" y="473.30" width="30.28" height="16.38" fill="#ED2A30"/>
<rect x="481.50" y="488.68" width="31.28" height="16.38" fill="#7E2222"/>
<rect x="511.77" y="488.68" width="31.28" height="16.38" fill="#7A2022"/>
<rect x="542.05" y="488.68" width="31.28" height="16.38" fill="#8C2826"/>
<rect x="572.33" y="488.68" width="30.28" height="16.38" fill="#7E2022"/>
<rect x="481.50" y="504.06" width="31.28" height="16.38" fill="#0A5230"/>
<rect x="511.77" y="504.06" width="31.28" height="16.38" fill="#00A850"/>
<rect x="542.05" y="504.06" width="31.28" height="16.38" fill="#00A650"/>
<rect x="572.33" y="504.06" width="30.28" height="16.38" fill="#00A04E"/>
<rect x="481.50" y="519.44" width="31.28" height="16.38" fill="#ED2A30"/>
<rect x="511.77" y="519.44" width="31.28" height="16.38" fill="#ED2A30"/>
<rect x="542.05" y="519.44" width="31.28" height="16.38" fill="#ED2A30"/>
<rect x="572.33" y="519.44" width="30.28" height="16.38" fill="#ED2A30"/>
<rect x="481.50" y="534.82" width="31.28" height="15.38" fill="#BE2830"/>
<rect x="511.77" y="534.82" width="31.28" height="15.38" fill="#A62C2A"/>
<rect x="542.05" y="534.82" width="31.28" height="15.38" fill="#ED2A30"/>
<rect x="572.33" y="534.82" width="30.28" height="15.38" fill="#CA322E"/>
</g>
<text x="612.80" y="407.00" font-size="6.3" text-anchor="middle" font-family="DejaVu Sans, sans-serif">★</text>
<text x="625.80" y="409.10" font-size="12.4" text-anchor="start" font-weight="normal" font-style="normal" >Col1a1</text>
<text x="612.80" y="422.29" font-size="6.3" text-anchor="middle" font-family="DejaVu Sans, sans-serif">★</text>
<text x="625.80" y="424.39" font-size="12.4" text-anchor="start" font-weight="normal" font-style="normal" >Col5a2</text>
<text x="612.80" y="437.58" font-size="6.3" text-anchor="middle" font-family="DejaVu Sans, sans-serif">★</text>
<text x="625.80" y="439.68" font-size="12.4" text-anchor="start" font-weight="normal" font-style="normal" >Col6a3</text>
<text x="612.80" y="452.87" font-size="6.3" text-anchor="middle" font-family="DejaVu Sans, sans-serif">★</text>
<text x="625.80" y="454.97" font-size="12.4" text-anchor="start" font-weight="normal" font-style="normal" >Col7a1</text>
<text x="612.80" y="468.16" font-size="6.3" text-anchor="middle" font-family="DejaVu Sans, sans-serif">★</text>
<text x="625.80" y="470.26" font-size="12.4" text-anchor="start" font-weight="normal" font-style="normal" >Col8a1</text>
<text x="612.80" y="483.45" font-size="6.3" text-anchor="middle" font-family="DejaVu Sans, sans-serif">★</text>
<text x="625.80" y="485.55" font-size="12.4" text-anchor="start" font-weight="normal" font-style="normal" >Col12a1</text>
<text x="612.80" y="498.74" font-size="6.3" text-anchor="middle" font-family="DejaVu Sans, sans-serif">★</text>
<text x="625.80" y="500.84" font-size="12.4" text-anchor="start" font-weight="normal" font-style="normal" >Col18a1</text>
<text x="612.80" y="514.03" font-size="6.3" text-anchor="middle" font-family="DejaVu Sans, sans-serif">★</text>
<text x="625.80" y="516.13" font-size="12.4" text-anchor="start" font-weight="normal" font-style="normal" >Col20a1</text>
<text x="612.80" y="529.32" font-size="6.3" text-anchor="middle" font-family="DejaVu Sans, sans-serif">★</text>
<text x="625.80" y="531.42" font-size="12.4" text-anchor="start" font-weight="normal" font-style="normal" >Serpine1</text>
<text x="612.80" y="544.61" font-size="6.3" text-anchor="middle" font-family="DejaVu Sans, sans-serif">★</text>
<text x="625.80" y="546.71" font-size="12.4" text-anchor="start" font-weight="normal" font-style="normal" >Serpine2</text>
<text x="498.60" y="388.60" font-size="17.2" text-anchor="middle" font-weight="normal" font-style="normal" >1</text>
<text x="526.80" y="388.60" font-size="17.2" text-anchor="middle" font-weight="normal" font-style="normal" >2</text>
<text x="555.30" y="388.60" font-size="17.2" text-anchor="middle" font-weight="normal" font-style="normal" >3</text>
<text x="601.20" y="388.60" font-size="17.2" text-anchor="end" font-weight="normal" font-style="normal" >Avg</text>
<text x="4.20" y="18.30" font-size="18.8" text-anchor="start" font-weight="bold" font-style="normal" >A</text>
<text x="36.00" y="18.30" font-size="18.8" text-anchor="start" font-weight="bold" font-style="normal" >Stress response</text>
<text x="253.30" y="18.30" font-size="18.8" text-anchor="start" font-weight="bold" font-style="normal" >ErbB signaling</text>
<text x="477.60" y="18.30" font-size="18.8" text-anchor="start" font-weight="bold" font-style="normal" >Immune response</text>
<text x="270.50" y="524.60" font-size="18.8" text-anchor="start" font-weight="bold" font-style="normal" >Keratins</text>
<text x="497.00" y="359.00" font-size="18.8" text-anchor="start" font-weight="bold" font-style="normal" >Collagen</text>
<g shape-rendering="auto">
<rect x="572.9" y="588.20" width="30.6" height="16.20" fill="#ED2A30"/>
<rect x="572.9" y="603.40" width="30.6" height="16.20" fill="#C0272D"/>
<rect x="572.9" y="618.60" width="30.6" height="16.20" fill="#8B2623"/>
<rect x="572.9" y="633.80" width="30.6" height="16.20" fill="#000000"/>
<rect x="572.9" y="649.00" width="30.6" height="16.20" fill="#00A14B"/>
<rect x="572.9" y="664.20" width="30.6" height="16.20" fill="#00A54F"/>
<rect x="572.9" y="679.40" width="30.6" height="15.20" fill="#00A650"/>
</g>
<text x="611.40" y="598.40" font-size="12.45" text-anchor="start" font-weight="normal" font-style="normal" ><tspan font-size="11.5" letter-spacing="-2.0" dx="-0.6">⩾</tspan>4</text>
<text x="611.40" y="614.02" font-size="12.45" text-anchor="start" font-weight="normal" font-style="normal" >3</text>
<text x="611.40" y="629.64" font-size="12.45" text-anchor="start" font-weight="normal" font-style="normal" >2</text>
<text x="611.40" y="645.26" font-size="12.45" text-anchor="start" font-weight="normal" font-style="normal" >1</text>
<text x="611.40" y="660.88" font-size="12.45" text-anchor="start" font-weight="normal" font-style="normal" >-2</text>
<text x="611.40" y="676.50" font-size="12.45" text-anchor="start" font-weight="normal" font-style="normal" >-3</text>
<text x="611.40" y="692.12" font-size="12.45" text-anchor="start" font-weight="normal" font-style="normal" ><tspan font-size="11.5" letter-spacing="-2.2" dx="-0.6">⩽</tspan>-4</text>
<text x="472.60" y="652.20" font-size="17.2" text-anchor="start" font-weight="bold" font-style="normal" >Scale:</text>
<text x="472.80" y="672.60" font-size="15.85" text-anchor="start" font-weight="normal" font-style="normal" >fold increase</text>
<text x="472.80" y="692.40" font-size="15.85" text-anchor="start" font-weight="normal" font-style="normal" >or decrease</text>
<g shape-rendering="auto">
<defs>
<filter id="b1" x="-30%" y="-200%" width="160%" height="500%"><feGaussianBlur stdDeviation="1.5 1.0"/></filter>
<filter id="b2" x="-30%" y="-200%" width="160%" height="500%"><feGaussianBlur stdDeviation="1.2 0.8"/></filter>
<filter id="b3" x="-30%" y="-200%" width="160%" height="500%"><feGaussianBlur stdDeviation="2.2 2.4"/></filter>
<filter id="b5" x="-30%" y="-200%" width="160%" height="500%"><feGaussianBlur stdDeviation="1.7 1.25"/></filter>
<filter id="b6" x="-30%" y="-200%" width="160%" height="500%"><feGaussianBlur stdDeviation="2.0 1.5"/></filter>
<filter id="b7" x="-60%" y="-200%" width="220%" height="500%"><feGaussianBlur stdDeviation="3.2 3.5"/></filter>
<filter id="b4" x="-30%" y="-200%" width="160%" height="500%"><feGaussianBlur stdDeviation="1.0 0.6"/></filter>
</defs>
<linearGradient id="gbg" x1="0" y1="0" x2="0" y2="1"><stop offset="0" stop-color="#fbfbfb"/><stop offset="0.35" stop-color="#f5f5f5"/><stop offset="1" stop-color="#f4f4f4"/></linearGradient>
<rect x="28.4" y="901" width="235.9" height="63.5" fill="url(#gbg)"/>
<rect x="33.10" y="799.30" width="17.00" height="12.00" rx="2.20" fill="#000" fill-opacity="0.12000000000000001" filter="url(#b3)"/>
<rect x="33.60" y="800.10" width="16.00" height="4.40" rx="2.20" fill="#000" fill-opacity="0.45" filter="url(#b5)"/>
<rect x="33.85" y="806.30" width="15.50" height="3.20" rx="1.60" fill="#000" fill-opacity="0.16" filter="url(#b6)"/>
<rect x="55.80" y="799.30" width="17.00" height="12.00" rx="2.20" fill="#000" fill-opacity="0.19000000000000003" filter="url(#b3)"/>
<rect x="56.05" y="800.00" width="16.50" height="4.60" rx="2.20" fill="#000" fill-opacity="0.8" filter="url(#b5)"/>
<rect x="56.55" y="806.30" width="15.50" height="3.20" rx="1.60" fill="#000" fill-opacity="0.26" filter="url(#b6)"/>
<rect x="78.50" y="799.40" width="17.00" height="12.00" rx="2.20" fill="#000" fill-opacity="0.064" filter="url(#b3)"/>
<rect x="79.25" y="801.00" width="15.50" height="2.80" rx="1.40" fill="#000" fill-opacity="0.17" filter="url(#b5)"/>
<rect x="79.25" y="806.40" width="15.50" height="3.20" rx="1.60" fill="#000" fill-opacity="0.04" filter="url(#b6)"/>
<rect x="101.20" y="798.20" width="17.00" height="12.00" rx="2.20" fill="#000" fill-opacity="0.08" filter="url(#b3)"/>
<rect x="101.70" y="799.60" width="16.00" height="3.20" rx="1.60" fill="#000" fill-opacity="0.25" filter="url(#b5)"/>
<rect x="101.95" y="805.20" width="15.50" height="3.20" rx="1.60" fill="#000" fill-opacity="0.06" filter="url(#b6)"/>
<rect x="123.90" y="799.40" width="17.00" height="12.00" rx="2.20" fill="#000" fill-opacity="0.068" filter="url(#b3)"/>
<rect x="124.90" y="801.00" width="15.00" height="2.80" rx="1.40" fill="#000" fill-opacity="0.19" filter="url(#b5)"/>
<rect x="124.65" y="806.40" width="15.50" height="3.20" rx="1.60" fill="#000" fill-opacity="0.04" filter="url(#b6)"/>
<rect x="146.60" y="799.80" width="17.00" height="12.00" rx="2.20" fill="#000" fill-opacity="0.13" filter="url(#b3)"/>
<rect x="149.60" y="788.80" width="11.00" height="12.00" rx="2.20" fill="#000" fill-opacity="0.04" filter="url(#b7)"/>
<rect x="147.10" y="800.60" width="16.00" height="4.40" rx="2.20" fill="#000" fill-opacity="0.5" filter="url(#b5)"/>
<rect x="147.35" y="806.80" width="15.50" height="3.20" rx="1.60" fill="#000" fill-opacity="0.22" filter="url(#b6)"/>
<rect x="169.30" y="799.50" width="17.00" height="12.00" rx="2.20" fill="#000" fill-opacity="0.166" filter="url(#b3)"/>
<rect x="172.30" y="788.50" width="11.00" height="12.00" rx="2.20" fill="#000" fill-opacity="0.047200000000000006" filter="url(#b7)"/>
<rect x="169.55" y="800.20" width="16.50" height="4.60" rx="2.20" fill="#000" fill-opacity="0.68" filter="url(#b5)"/>
<rect x="170.05" y="806.50" width="15.50" height="3.20" rx="1.60" fill="#000" fill-opacity="0.26" filter="url(#b6)"/>
<rect x="192.00" y="800.40" width="17.00" height="12.00" rx="2.20" fill="#000" fill-opacity="0.22" filter="url(#b3)"/>
<rect x="195.00" y="789.40" width="11.00" height="12.00" rx="2.20" fill="#000" fill-opacity="0.057999999999999996" filter="url(#b7)"/>
<rect x="192.25" y="801.00" width="16.50" height="4.80" rx="2.20" fill="#000" fill-opacity="0.95" filter="url(#b5)"/>
<rect x="192.75" y="807.40" width="15.50" height="3.20" rx="1.60" fill="#000" fill-opacity="0.5" filter="url(#b6)"/>
<rect x="214.70" y="800.60" width="17.00" height="12.00" rx="2.20" fill="#000" fill-opacity="0.14" filter="url(#b3)"/>
<rect x="217.70" y="789.60" width="11.00" height="12.00" rx="2.20" fill="#000" fill-opacity="0.042" filter="url(#b7)"/>
<rect x="215.20" y="801.40" width="16.00" height="4.40" rx="2.20" fill="#000" fill-opacity="0.55" filter="url(#b5)"/>
<rect x="215.45" y="807.60" width="15.50" height="3.20" rx="1.60" fill="#000" fill-opacity="0.32" filter="url(#b6)"/>
<rect x="237.40" y="800.40" width="17.00" height="12.00" rx="2.20" fill="#000" fill-opacity="0.23" filter="url(#b3)"/>
<rect x="240.40" y="789.40" width="11.00" height="12.00" rx="2.20" fill="#000" fill-opacity="0.06" filter="url(#b7)"/>
<rect x="237.15" y="800.90" width="17.50" height="5.00" rx="2.20" fill="#000" fill-opacity="1.0" filter="url(#b5)"/>
<rect x="238.15" y="807.40" width="15.50" height="3.20" rx="1.60" fill="#000" fill-opacity="0.55" filter="url(#b6)"/>
<rect x="33.00" y="868.70" width="15.00" height="7.00" rx="2.20" fill="#000" fill-opacity="0.18" filter="url(#b3)"/>
<rect x="34.00" y="858.20" width="13.00" height="8.00" rx="2.20" fill="#000" fill-opacity="0.03" filter="url(#b3)"/>
<ellipse cx="40.50" cy="867.20" rx="8.75" ry="2.45" fill="#000" fill-opacity="1" filter="url(#b2)"/>
<rect x="55.50" y="868.80" width="15.00" height="7.00" rx="2.20" fill="#000" fill-opacity="0.18" filter="url(#b3)"/>
<rect x="56.50" y="858.30" width="13.00" height="8.00" rx="2.20" fill="#000" fill-opacity="0.03" filter="url(#b3)"/>
<ellipse cx="63.00" cy="867.30" rx="9.50" ry="2.45" fill="#000" fill-opacity="1" filter="url(#b2)"/>
<rect x="79.20" y="869.00" width="15.00" height="7.00" rx="2.20" fill="#000" fill-opacity="0.174" filter="url(#b3)"/>
<rect x="80.20" y="858.50" width="13.00" height="8.00" rx="2.20" fill="#000" fill-opacity="0.028499999999999998" filter="url(#b3)"/>
<ellipse cx="86.70" cy="867.50" rx="9.00" ry="2.35" fill="#000" fill-opacity="0.95" filter="url(#b2)"/>
<rect x="101.00" y="869.60" width="15.00" height="7.00" rx="2.20" fill="#000" fill-opacity="0.18" filter="url(#b3)"/>
<rect x="102.00" y="859.10" width="13.00" height="8.00" rx="2.20" fill="#000" fill-opacity="0.03" filter="url(#b3)"/>
<ellipse cx="108.50" cy="868.10" rx="8.75" ry="2.55" fill="#000" fill-opacity="1" filter="url(#b2)"/>
<rect x="122.80" y="870.10" width="15.00" height="7.00" rx="2.20" fill="#000" fill-opacity="0.096" filter="url(#b3)"/>
<rect x="123.80" y="859.60" width="13.00" height="8.00" rx="2.20" fill="#000" fill-opacity="0.009" filter="url(#b3)"/>
<ellipse cx="130.30" cy="868.60" rx="8.50" ry="1.40" fill="#000" fill-opacity="0.3" filter="url(#b2)"/>
<rect x="145.60" y="870.40" width="15.00" height="7.00" rx="2.20" fill="#000" fill-opacity="0.16799999999999998" filter="url(#b3)"/>
<rect x="146.60" y="859.90" width="13.00" height="8.00" rx="2.20" fill="#000" fill-opacity="0.027" filter="url(#b3)"/>
<ellipse cx="153.10" cy="868.90" rx="8.75" ry="2.30" fill="#000" fill-opacity="0.9" filter="url(#b2)"/>
<rect x="168.50" y="870.80" width="15.00" height="7.00" rx="2.20" fill="#000" fill-opacity="0.132" filter="url(#b3)"/>
<rect x="169.50" y="860.30" width="13.00" height="8.00" rx="2.20" fill="#000" fill-opacity="0.018" filter="url(#b3)"/>
<ellipse cx="176.00" cy="869.30" rx="8.75" ry="1.90" fill="#000" fill-opacity="0.6" filter="url(#b2)"/>
<rect x="191.30" y="871.20" width="15.00" height="7.00" rx="2.20" fill="#000" fill-opacity="0.156" filter="url(#b3)"/>
<rect x="192.30" y="860.70" width="13.00" height="8.00" rx="2.20" fill="#000" fill-opacity="0.024" filter="url(#b3)"/>
<ellipse cx="198.80" cy="869.70" rx="9.00" ry="2.10" fill="#000" fill-opacity="0.8" filter="url(#b2)"/>
<rect x="215.00" y="871.30" width="15.00" height="7.00" rx="2.20" fill="#000" fill-opacity="0.096" filter="url(#b3)"/>
<rect x="216.00" y="860.80" width="13.00" height="8.00" rx="2.20" fill="#000" fill-opacity="0.009" filter="url(#b3)"/>
<ellipse cx="222.50" cy="869.80" rx="8.00" ry="1.10" fill="#000" fill-opacity="0.3" filter="url(#b2)"/>
<rect x="238.80" y="872.10" width="15.00" height="7.00" rx="2.20" fill="#000" fill-opacity="0.08399999999999999" filter="url(#b3)"/>
<rect x="239.80" y="861.60" width="13.00" height="8.00" rx="2.20" fill="#000" fill-opacity="0.006" filter="url(#b3)"/>
<ellipse cx="246.30" cy="870.60" rx="8.00" ry="0.85" fill="#000" fill-opacity="0.2" filter="url(#b2)"/>
<rect x="32" y="928" width="224" height="13" fill="#000" fill-opacity="0.10" filter="url(#b3)"/>
<rect x="32.45" y="929.80" width="19.70" height="14.00" rx="2.20" fill="#000" fill-opacity="0.1" filter="url(#b3)"/>
<rect x="55.45" y="929.30" width="20.70" height="14.00" rx="2.20" fill="#000" fill-opacity="0.1" filter="url(#b3)"/>
<rect x="78.50" y="928.90" width="20.20" height="14.00" rx="2.20" fill="#000" fill-opacity="0.1" filter="url(#b3)"/>
<rect x="101.30" y="928.10" width="18.20" height="14.00" rx="2.20" fill="#000" fill-opacity="0.1" filter="url(#b3)"/>
<rect x="123.10" y="928.00" width="19.20" height="14.00" rx="2.20" fill="#000" fill-opacity="0.1" filter="url(#b3)"/>
<rect x="143.85" y="927.40" width="20.70" height="14.00" rx="2.20" fill="#000" fill-opacity="0.1" filter="url(#b3)"/>
<rect x="166.65" y="927.00" width="21.70" height="14.00" rx="2.20" fill="#000" fill-opacity="0.1" filter="url(#b3)"/>
<rect x="189.95" y="927.00" width="20.70" height="14.00" rx="2.20" fill="#000" fill-opacity="0.1" filter="url(#b3)"/>
<rect x="213.20" y="926.60" width="19.20" height="14.00" rx="2.20" fill="#000" fill-opacity="0.1" filter="url(#b3)"/>
<rect x="235.40" y="926.40" width="21.20" height="14.00" rx="2.20" fill="#000" fill-opacity="0.1" filter="url(#b3)"/>
<ellipse cx="42.10" cy="931.90" rx="8.60" ry="1.40" fill="#000" fill-opacity="0.85" filter="url(#b2)"/>
<ellipse cx="65.30" cy="931.30" rx="8.60" ry="1.50" fill="#000" fill-opacity="0.9" filter="url(#b2)"/>
<ellipse cx="88.60" cy="930.90" rx="9.10" ry="2.30" fill="#000" fill-opacity="1" filter="url(#b2)"/>
<ellipse cx="110.40" cy="930.40" rx="8.60" ry="1.10" fill="#000" fill-opacity="0.45" filter="url(#b2)"/>
<ellipse cx="132.70" cy="930.00" rx="8.10" ry="1.20" fill="#000" fill-opacity="0.7" filter="url(#b2)"/>
<ellipse cx="154.20" cy="930.00" rx="9.35" ry="2.50" fill="#000" fill-opacity="1" filter="url(#b2)"/>
<ellipse cx="177.50" cy="929.40" rx="9.60" ry="2.30" fill="#000" fill-opacity="1" filter="url(#b2)"/>
<ellipse cx="200.30" cy="929.40" rx="9.35" ry="2.30" fill="#000" fill-opacity="1" filter="url(#b2)"/>
<ellipse cx="222.80" cy="929.60" rx="8.60" ry="1.60" fill="#000" fill-opacity="0.95" filter="url(#b2)"/>
<ellipse cx="246.00" cy="929.40" rx="9.35" ry="2.10" fill="#000" fill-opacity="1" filter="url(#b2)"/>
<ellipse cx="42.30" cy="939.80" rx="9.85" ry="2.80" fill="#000" fill-opacity="1" filter="url(#b2)"/>
<ellipse cx="65.80" cy="939.30" rx="10.35" ry="2.70" fill="#000" fill-opacity="1" filter="url(#b2)"/>
<ellipse cx="88.60" cy="938.90" rx="10.10" ry="2.80" fill="#000" fill-opacity="1" filter="url(#b2)"/>
<ellipse cx="110.40" cy="938.10" rx="9.10" ry="1.50" fill="#000" fill-opacity="1" filter="url(#b2)"/>
<ellipse cx="132.70" cy="938.00" rx="9.60" ry="2.20" fill="#000" fill-opacity="1" filter="url(#b2)"/>
<ellipse cx="154.20" cy="937.40" rx="10.35" ry="2.90" fill="#000" fill-opacity="1" filter="url(#b2)"/>
<ellipse cx="177.50" cy="937.00" rx="10.85" ry="2.90" fill="#000" fill-opacity="1" filter="url(#b2)"/>
<ellipse cx="200.30" cy="937.00" rx="10.35" ry="2.80" fill="#000" fill-opacity="1" filter="url(#b2)"/>
<ellipse cx="222.80" cy="936.60" rx="9.60" ry="1.90" fill="#000" fill-opacity="1" filter="url(#b2)"/>
<ellipse cx="246.00" cy="936.40" rx="10.60" ry="2.60" fill="#000" fill-opacity="1" filter="url(#b2)"/>
<polyline points="50,998 61.5,998.2 86,997.8 108,998.9 129,997.6 151,998.2 175,998.8 199,997.2 222,998.1 240,997.4" fill="none" stroke="#000" stroke-opacity="0.75" stroke-width="1.8" filter="url(#b4)"/>
<ellipse cx="37.80" cy="996.60" rx="11.00" ry="1.70" fill="#000" fill-opacity="0.62" filter="url(#b4)"/>
<ellipse cx="61.50" cy="998.00" rx="11.50" ry="1.80" fill="#000" fill-opacity="0.88" filter="url(#b4)"/>
<ellipse cx="86.30" cy="997.30" rx="13.00" ry="3.20" fill="#000" fill-opacity="1" filter="url(#b4)"/>
<ellipse cx="108.50" cy="998.80" rx="13.00" ry="2.30" fill="#000" fill-opacity="1" filter="url(#b4)"/>
<ellipse cx="129.40" cy="997.00" rx="12.00" ry="2.60" fill="#000" fill-opacity="0.92" filter="url(#b4)"/>
<ellipse cx="151.40" cy="998.00" rx="13.00" ry="2.10" fill="#000" fill-opacity="1" filter="url(#b4)"/>
<ellipse cx="175.50" cy="998.70" rx="13.50" ry="2.10" fill="#000" fill-opacity="1" filter="url(#b4)"/>
<ellipse cx="199.30" cy="996.90" rx="13.00" ry="1.80" fill="#000" fill-opacity="0.9" filter="url(#b4)"/>
<ellipse cx="221.60" cy="998.00" rx="13.50" ry="1.40" fill="#000" fill-opacity="0.88" filter="url(#b4)"/>
<ellipse cx="244.60" cy="996.50" rx="11.50" ry="2.90" fill="#000" fill-opacity="1" filter="url(#b4)"/>
<ellipse cx="258.00" cy="998.40" rx="7.00" ry="0.90" fill="#000" fill-opacity="0.5" filter="url(#b4)"/>
</g>
<rect x="31.3" y="766.85" width="109.50" height="1.3" fill="#000" shape-rendering="auto"/>
<rect x="147.4" y="766.85" width="110.90" height="1.3" fill="#000" shape-rendering="auto"/>
<rect x="26.8" y="833.95" width="241.00" height="1.3" fill="#000" shape-rendering="auto"/>
<rect x="28.2" y="899.75" width="231.70" height="1.3" fill="#000" shape-rendering="auto"/>
<rect x="27" y="963.85" width="236.10" height="1.3" fill="#000" shape-rendering="auto"/>
<rect x="27.2" y="1027.55" width="241.40" height="1.3" fill="#000" shape-rendering="auto"/>
<text x="4.70" y="748.50" font-size="18.9" text-anchor="start" font-weight="bold" font-style="normal" >B</text>
<text x="87.20" y="760.80" font-size="13.6" text-anchor="middle" font-weight="normal" font-style="normal" >WT</text>
<text x="182.2" y="760.8" font-size="13.6" font-style="italic">Nod2<tspan dy="-7.4" dx="2.3" font-size="10.8">-/-</tspan></text>
<text x="269.70" y="807.00" font-size="13.0" text-anchor="start" font-weight="normal" font-style="normal" >p-STAT3</text>
<text x="269.70" y="873.90" font-size="13.0" text-anchor="start" font-weight="normal" font-style="normal" >p-STAT5</text>
<text x="269.30" y="937.00" font-size="12.6" text-anchor="start" font-weight="normal" font-style="normal" >p-ERK1/2</text>
<text x="269.30" y="1000.70" font-size="12.7" text-anchor="start" font-weight="normal" font-style="normal" >Actin</text>
<text x="337.50" y="748.50" font-size="18.9" text-anchor="start" font-weight="bold" font-style="normal" >C</text>
<g shape-rendering="auto">
<rect x="382.00" y="825.10" width="3.90" height="1.40" fill="#000" />
<text x="377.70" y="829.00" font-size="11.7" text-anchor="end" font-weight="normal" font-style="normal" >3.5</text>
<rect x="382.70" y="839.86" width="3.20" height="1.40" fill="#000" />
<rect x="382.00" y="854.62" width="3.90" height="1.40" fill="#000" />
<text x="377.70" y="858.52" font-size="11.7" text-anchor="end" font-weight="normal" font-style="normal" >2.8</text>
<rect x="382.70" y="869.38" width="3.20" height="1.40" fill="#000" />
<rect x="382.00" y="884.14" width="3.90" height="1.40" fill="#000" />
<text x="377.70" y="888.04" font-size="11.7" text-anchor="end" font-weight="normal" font-style="normal" >2.1</text>
<rect x="382.70" y="898.90" width="3.20" height="1.40" fill="#000" />
<rect x="382.00" y="913.66" width="3.90" height="1.40" fill="#000" />
<text x="377.70" y="917.56" font-size="11.7" text-anchor="end" font-weight="normal" font-style="normal" >1.4</text>
<rect x="382.70" y="928.42" width="3.20" height="1.40" fill="#000" />
<rect x="382.00" y="943.18" width="3.90" height="1.40" fill="#000" />
<text x="377.70" y="947.08" font-size="11.7" text-anchor="end" font-weight="normal" font-style="normal" >0.7</text>
<rect x="382.70" y="957.94" width="3.20" height="1.40" fill="#000" />
<rect x="382.00" y="972.70" width="3.90" height="1.40" fill="#000" />
<text x="377.70" y="976.60" font-size="11.7" text-anchor="end" font-weight="normal" font-style="normal" >0.0</text>
<rect x="385.20" y="973.40" width="1.40" height="3.20" fill="#000" />
<rect x="413.30" y="973.40" width="1.40" height="3.20" fill="#000" />
<rect x="442.10" y="973.40" width="1.40" height="3.20" fill="#000" />
<text x="404.50" y="805.80" font-size="14.4" text-anchor="middle" font-weight="normal" font-style="normal" >p-STAT3</text>
<text x="0" y="0" font-size="13.7" text-anchor="middle" transform="translate(353.00,901.60) rotate(-90)">p-STAT3 / actin</text>
<rect x="399.30" y="911.70" width="1.30" height="7.20" fill="#000" />
<rect x="397.25" y="910.95" width="5.40" height="1.50" fill="#000" />
<rect x="392.80" y="918.60" width="14.30" height="54.80" fill="#C0C0C0" stroke="#000" stroke-width="1.4"/>
<rect x="427.95" y="829.90" width="1.30" height="24.80" fill="#000" />
<rect x="425.90" y="829.15" width="5.40" height="1.50" fill="#000" />
<rect x="421.90" y="854.40" width="13.40" height="119.00" fill="#000" stroke="#000" stroke-width="1.4"/>
<rect x="385.05" y="825.10" width="1.70" height="149.15" fill="#000" />
<rect x="385.05" y="972.55" width="58.35" height="1.70" fill="#000" />
<rect x="395.30" y="823.22" width="30.70" height="1.55" fill="#000" />
<text x="410.00" y="825.20" font-size="16.5" text-anchor="middle" font-weight="bold" font-style="normal" >*</text>
<rect x="498.10" y="823.50" width="3.90" height="1.40" fill="#000" />
<text x="495.20" y="827.40" font-size="11.7" text-anchor="end" font-weight="normal" font-style="normal" >2.5</text>
<rect x="498.80" y="838.34" width="3.20" height="1.40" fill="#000" />
<rect x="498.10" y="853.17" width="3.90" height="1.40" fill="#000" />
<text x="495.20" y="857.07" font-size="11.7" text-anchor="end" font-weight="normal" font-style="normal" >2.0</text>
<rect x="498.80" y="868.00" width="3.20" height="1.40" fill="#000" />
<rect x="498.10" y="882.84" width="3.90" height="1.40" fill="#000" />
<text x="495.20" y="886.74" font-size="11.7" text-anchor="end" font-weight="normal" font-style="normal" >1.5</text>
<rect x="498.80" y="897.67" width="3.20" height="1.40" fill="#000" />
<rect x="498.10" y="912.51" width="3.90" height="1.40" fill="#000" />
<text x="495.20" y="916.41" font-size="11.7" text-anchor="end" font-weight="normal" font-style="normal" >1.0</text>
<rect x="498.80" y="927.35" width="3.20" height="1.40" fill="#000" />
<rect x="498.10" y="942.18" width="3.90" height="1.40" fill="#000" />
<text x="495.20" y="946.08" font-size="11.7" text-anchor="end" font-weight="normal" font-style="normal" >0.5</text>
<rect x="498.80" y="957.01" width="3.20" height="1.40" fill="#000" />
<rect x="498.10" y="971.85" width="3.90" height="1.40" fill="#000" />
<text x="495.20" y="975.75" font-size="11.7" text-anchor="end" font-weight="normal" font-style="normal" >0.0</text>
<rect x="501.30" y="972.55" width="1.40" height="3.20" fill="#000" />
<rect x="530.30" y="972.55" width="1.40" height="3.20" fill="#000" />
<rect x="559.70" y="972.55" width="1.40" height="3.20" fill="#000" />
<text x="523.00" y="805.80" font-size="14.4" text-anchor="middle" font-weight="normal" font-style="normal" >p-STAT5</text>
<text x="0" y="0" font-size="13.7" text-anchor="middle" transform="translate(470.20,891.60) rotate(-90)">p-STAT5 / actin</text>
<rect x="516.15" y="849.50" width="1.30" height="11.20" fill="#000" />
<rect x="514.10" y="848.75" width="5.40" height="1.50" fill="#000" />
<rect x="509.50" y="860.40" width="14.60" height="112.15" fill="#C0C0C0" stroke="#000" stroke-width="1.4"/>
<rect x="545.45" y="897.40" width="1.30" height="16.10" fill="#000" />
<rect x="543.40" y="896.65" width="5.40" height="1.50" fill="#000" />
<rect x="538.80" y="913.20" width="14.60" height="59.35" fill="#000" stroke="#000" stroke-width="1.4"/>
<rect x="501.15" y="823.50" width="1.70" height="149.90" fill="#000" />
<rect x="501.15" y="971.70" width="59.75" height="1.70" fill="#000" />
<rect x="517.30" y="839.82" width="30.70" height="1.55" fill="#000" />
<text x="531.40" y="841.90" font-size="16.5" text-anchor="middle" font-weight="bold" font-style="normal" >*</text>
<rect x="606.30" y="824.50" width="3.90" height="1.40" fill="#000" />
<text x="603.00" y="828.40" font-size="11.7" text-anchor="end" font-weight="normal" font-style="normal" >6</text>
<rect x="607.00" y="836.76" width="3.20" height="1.40" fill="#000" />
<rect x="606.30" y="849.02" width="3.90" height="1.40" fill="#000" />
<text x="603.00" y="852.93" font-size="11.7" text-anchor="end" font-weight="normal" font-style="normal" >5</text>
<rect x="607.00" y="861.29" width="3.20" height="1.40" fill="#000" />
<rect x="606.30" y="873.55" width="3.90" height="1.40" fill="#000" />
<text x="603.00" y="877.45" font-size="11.7" text-anchor="end" font-weight="normal" font-style="normal" >4</text>
<rect x="607.00" y="885.81" width="3.20" height="1.40" fill="#000" />
<rect x="606.30" y="898.08" width="3.90" height="1.40" fill="#000" />
<text x="603.00" y="901.98" font-size="11.7" text-anchor="end" font-weight="normal" font-style="normal" >3</text>
<rect x="607.00" y="910.34" width="3.20" height="1.40" fill="#000" />
<rect x="606.30" y="922.60" width="3.90" height="1.40" fill="#000" />
<text x="603.00" y="926.50" font-size="11.7" text-anchor="end" font-weight="normal" font-style="normal" >2</text>
<rect x="607.00" y="934.86" width="3.20" height="1.40" fill="#000" />
<rect x="606.30" y="947.12" width="3.90" height="1.40" fill="#000" />
<text x="603.00" y="951.03" font-size="11.7" text-anchor="end" font-weight="normal" font-style="normal" >1</text>
<rect x="607.00" y="959.39" width="3.20" height="1.40" fill="#000" />
<rect x="606.30" y="971.65" width="3.90" height="1.40" fill="#000" />
<text x="603.00" y="975.55" font-size="11.7" text-anchor="end" font-weight="normal" font-style="normal" >0</text>
<rect x="609.50" y="972.35" width="1.40" height="3.20" fill="#000" />
<rect x="638.90" y="972.35" width="1.40" height="3.20" fill="#000" />
<rect x="667.80" y="972.35" width="1.40" height="3.20" fill="#000" />
<text x="638.00" y="805.80" font-size="14.4" text-anchor="middle" font-weight="normal" font-style="normal" >p-ERK</text>
<text x="0" y="0" font-size="13.7" text-anchor="middle" transform="translate(588.90,895.00) rotate(-90)">p-ERK / actin</text>
<rect x="624.40" y="840.60" width="1.30" height="25.00" fill="#000" />
<rect x="622.35" y="839.85" width="5.40" height="1.50" fill="#000" />
<rect x="617.90" y="865.30" width="14.30" height="107.05" fill="#C0C0C0" stroke="#000" stroke-width="1.4"/>
<rect x="653.35" y="854.20" width="1.30" height="9.20" fill="#000" />
<rect x="651.30" y="853.45" width="5.40" height="1.50" fill="#000" />
<rect x="646.90" y="863.10" width="14.20" height="109.25" fill="#000" stroke="#000" stroke-width="1.4"/>
<rect x="609.35" y="824.50" width="1.70" height="148.70" fill="#000" />
<rect x="609.35" y="971.50" width="59.65" height="1.70" fill="#000" />
<rect x="471.6" y="990.7" width="10.3" height="9.8" fill="#C6C9CE" stroke="#9A9EA6" stroke-width="1"/>
<text x="487.00" y="1000.00" font-size="13.2" text-anchor="start" font-weight="normal" font-style="normal" >WT</text>
<rect x="527.90" y="990.80" width="10.30" height="10.20" fill="#000" />
<text x="544.6" y="1000" font-size="13.4" font-style="italic">Nod2<tspan dy="-5.6" dx="0.9" font-size="12">-/-</tspan></text>
</g>
</svg>
</body></html>
